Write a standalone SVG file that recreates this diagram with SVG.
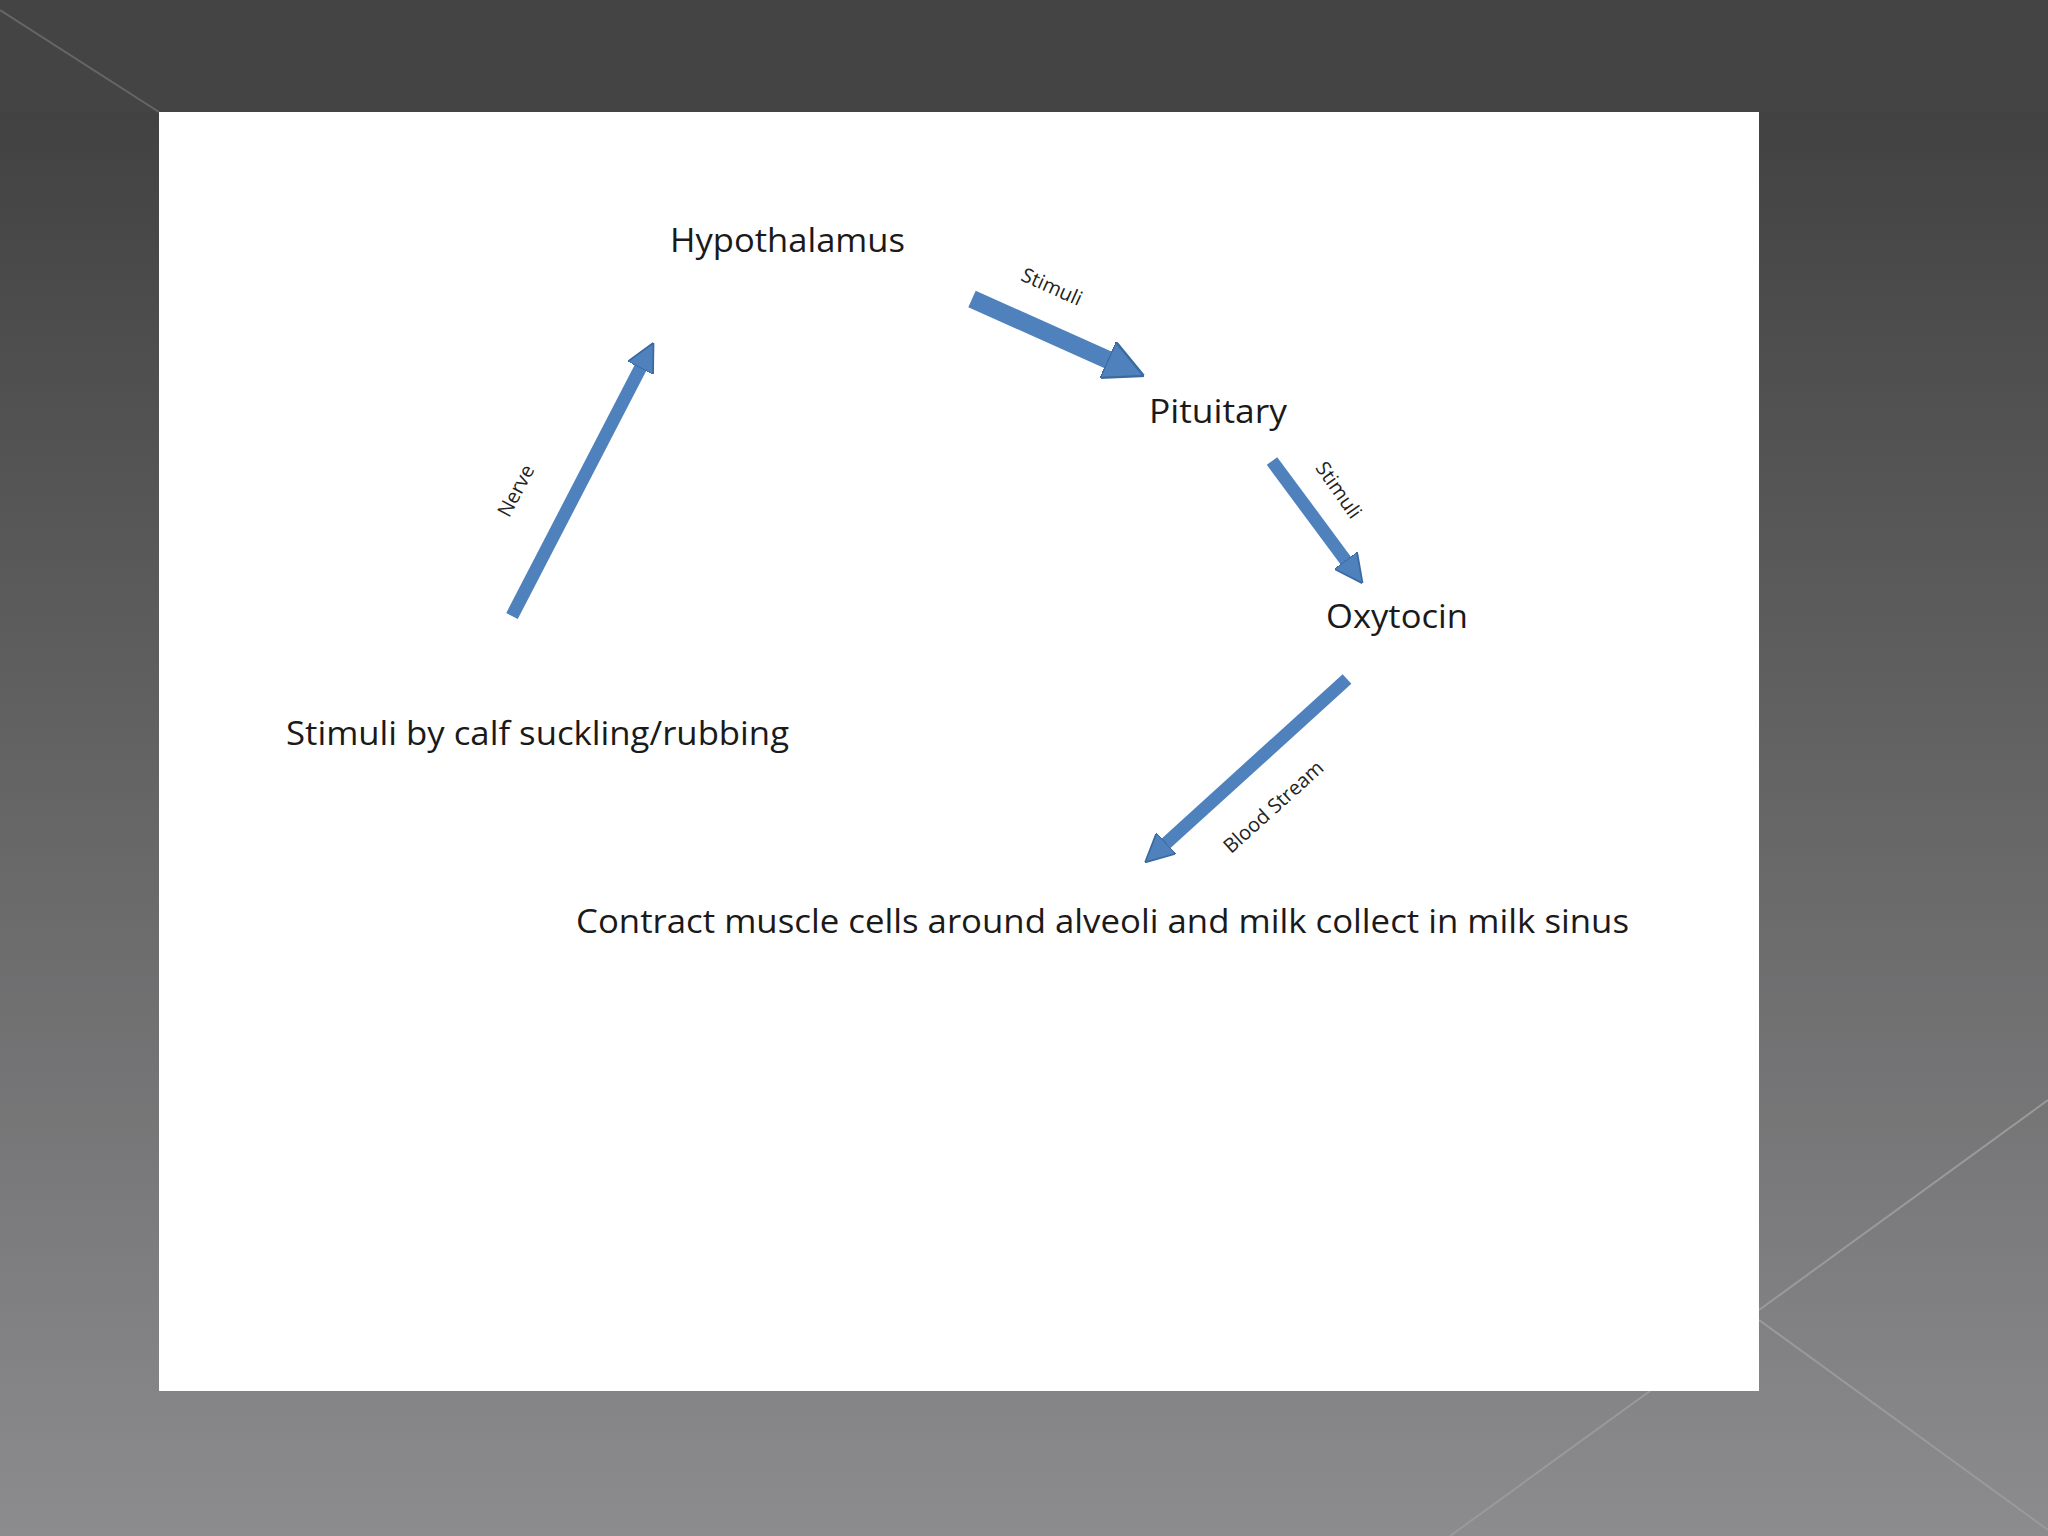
<svg xmlns="http://www.w3.org/2000/svg" width="2048" height="1536" viewBox="0 0 2048 1536">
<defs>
<linearGradient id="bg" x1="0" y1="0" x2="0" y2="1"><stop offset="0" stop-color="#3c3c3c"/><stop offset="1" stop-color="#8c8b8d"/></linearGradient>
<marker id="ah" viewBox="0 0 10 10" refX="2" refY="5" markerWidth="2.2" markerHeight="2.2" orient="auto" markerUnits="strokeWidth"><path d="M0,0 L10,5 L0,10 Z" fill="#4f81bd" stroke="#3a6aa0" stroke-width="0.6"/></marker>
<style>
.t{font-family:"Open Sans","Liberation Sans",sans-serif;font-size:33px;fill:#1a1a1a}
.s{font-family:"Open Sans","Liberation Sans",sans-serif;font-size:20px;fill:#222;text-anchor:middle}
.a{stroke:#4f81bd;stroke-width:13;fill:none;marker-end:url(#ah)}
</style>
</defs>
<rect width="2048" height="1536" fill="url(#bg)"/>
<rect width="2048" height="112" fill="#444"/>
<path d="M0,10 L159,112" stroke="#666" stroke-width="2" fill="none"/>
<path d="M2048,1100 L1759,1310 M1759,1320 L2048,1530 M1650,1391 L1450,1536" stroke="#9a9a9a" stroke-width="2" fill="none"/>
<rect x="159" y="112" width="1600" height="1279" fill="#fff"/>
<g id="hypothalamus"><text class="t" x="670" y="252" textLength="235" lengthAdjust="spacingAndGlyphs">Hypothalamus</text></g>
<g id="pituitary"><text class="t" x="1149" y="423" textLength="138" lengthAdjust="spacingAndGlyphs">Pituitary</text></g>
<g id="oxytocin"><text class="t" x="1326" y="628" textLength="142" lengthAdjust="spacingAndGlyphs">Oxytocin</text></g>
<g id="stimuli"><text class="t" x="286" y="745" textLength="503" lengthAdjust="spacingAndGlyphs">Stimuli by calf suckling/rubbing</text></g>
<g id="contract"><text class="t" x="576" y="933" textLength="1053" lengthAdjust="spacingAndGlyphs">Contract muscle cells around alveoli and milk collect in milk sinus</text></g>
<g id="connectors">
<line class="a" x1="512" y1="616" x2="643" y2="363"/>
<line class="a" x1="972" y1="299" x2="1115" y2="363" style="stroke-width:18"/>
<line class="a" x1="1272" y1="461" x2="1349" y2="565"/>
<line class="a" x1="1347" y1="679" x2="1162" y2="847"/>
<text class="s" transform="translate(522,494) rotate(-62)">Nerve</text>
<text class="s" transform="translate(1049,293) rotate(24)">Stimuli</text>
<text class="s" transform="translate(1333,494) rotate(55)">Stimuli</text>
<text class="s" transform="translate(1278,812) rotate(-42)">Blood Stream</text>
</g>
</svg>
